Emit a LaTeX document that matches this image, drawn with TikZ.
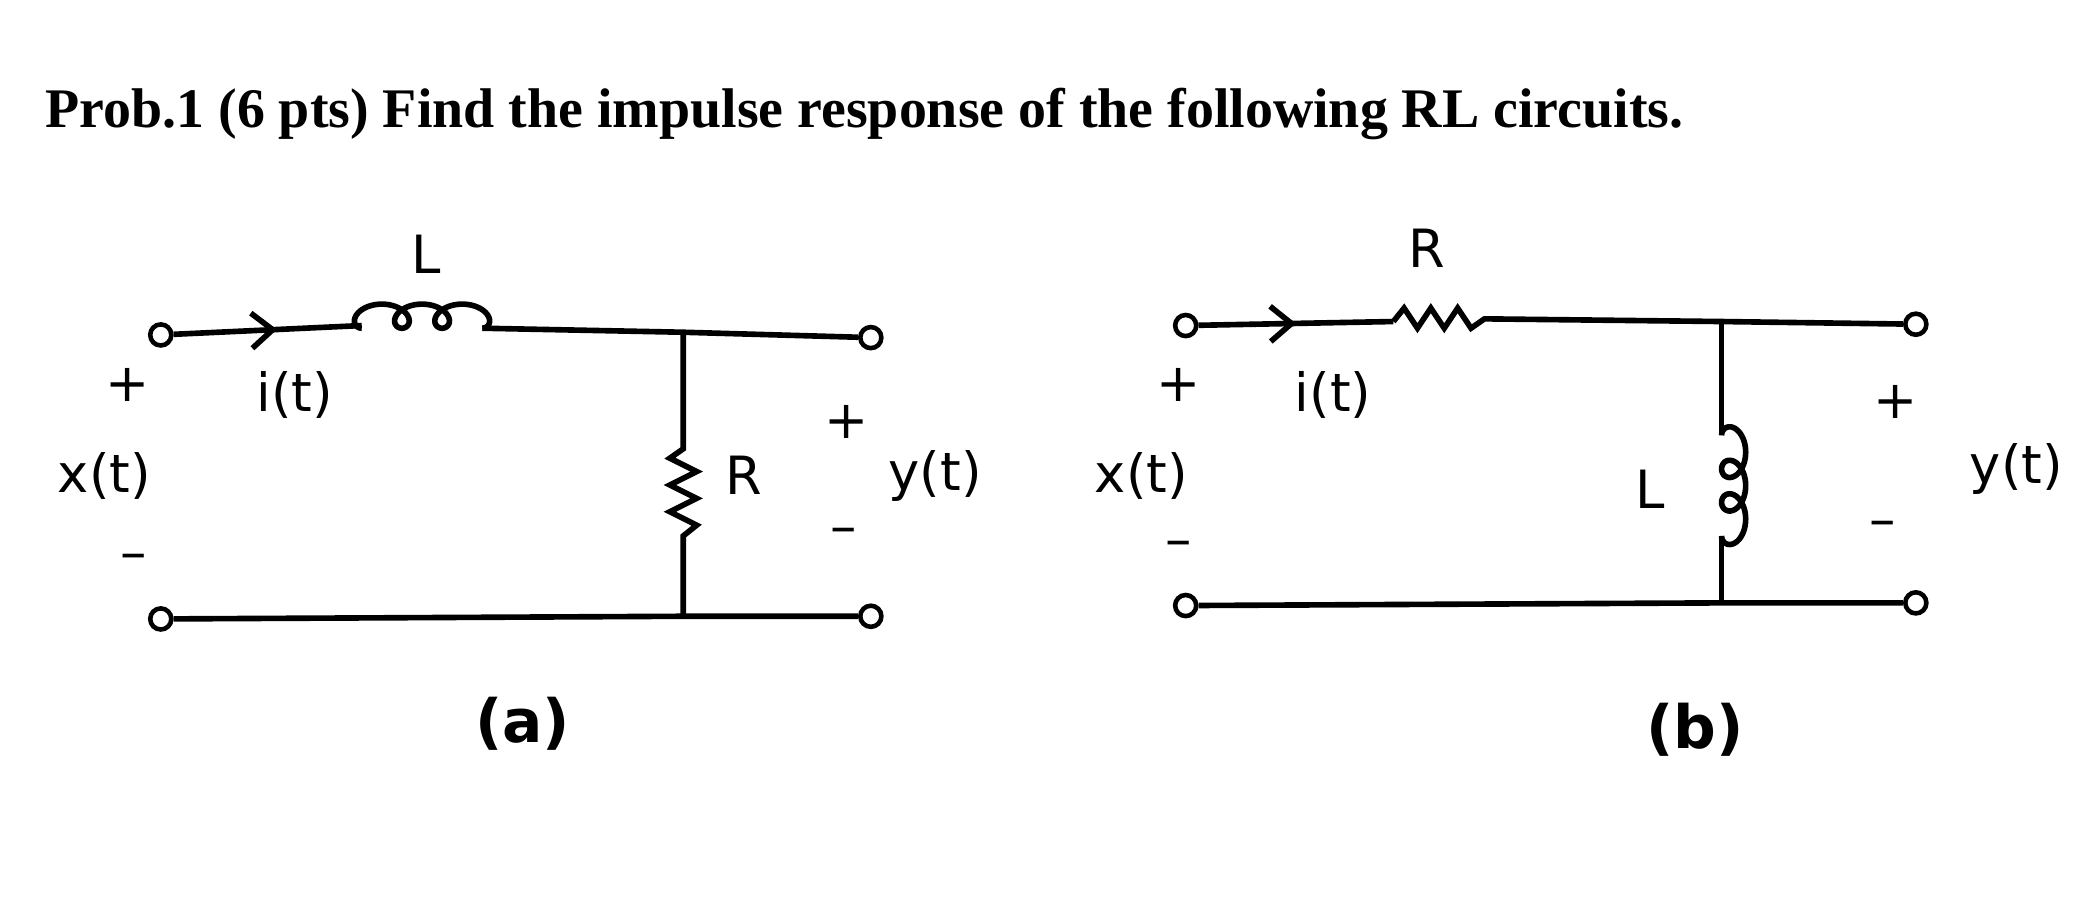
\documentclass[tikz,border=0pt]{standalone}
\usepackage{fontspec}
\setmainfont{Liberation Serif}
\newfontfamily\lab{DejaVu Sans}
\usetikzlibrary{arrows.meta,decorations.markings}
\begin{document}
\begin{tikzpicture}[x=0.0134cm,y=-0.0134cm,line width=1.6pt,
  term/.style={circle,draw,line width=1.3pt,inner sep=0pt,minimum size=6pt,fill=white},
  lbl/.style={font=\lab\fontsize{15}{17}\selectfont},
  captext/.style={font=\lab\bfseries\fontsize{17}{19}\selectfont},
  arr/.style={postaction={decorate},decoration={markings,mark=at position #1 with {\arrow{Straight Barb[length=6pt,width=10pt]}}}}]
\useasboundingbox (0,0) rectangle (1560,680);
\node[anchor=base west,inner sep=0pt,font=\bfseries\fontsize{15.9}{19}\selectfont] (title) at (32,95) {Prob.1 (6 pts) Find the impulse response of the following RL circuits.};
% ---- circuit (a)
\node[term] (a1) at (120,250) {};
\node[term] (a2) at (650,252) {};
\node[term] (a3) at (120,462) {};
\node[term] (a4) at (650,460) {};
\coordinate (at) at (510,248);
\coordinate (ab) at (510,460);
\draw[arr=0.55] (a1) -- (270,243);
\draw plot[domain=0:1080,samples=150,smooth] ({270+\x/1080*90-12*sin(\x)},{245-18*(1-cos(\x))/2});
\draw (360,245) -- (at) -- (a2);
\draw (at) -- (510,335) -- (500,342) -- (520,352) -- (500,362) -- (520,372) -- (500,382) -- (520,392) -- (510,400) -- (ab);
\draw (a3) -- (ab) -- (a4);
\node[lbl] (aL) at (318,190) {L};
\node[lbl] (ap1) at (95,287) {+};
\node[lbl] (ai) at (220,295) {i(t)};
\node[lbl] (ax) at (78,355) {x(t)};
\node[lbl] (am1) at (100,420) {–};
\node[lbl] (aR) at (555,355) {R};
\node[lbl] (ap2) at (632,315) {+};
\node[lbl] (ay) at (698,355) {y(t)};
\node[lbl] (am2) at (630,400) {–};
\node[captext] (ca) at (390,540) {(a)};
% ---- circuit (b)
\node[term] (b1) at (885,243) {};
\node[term] (b2) at (1430,242) {};
\node[term] (b3) at (885,452) {};
\node[term] (b4) at (1430,450) {};
\coordinate (bt) at (1285,240);
\coordinate (bb) at (1285,450);
\draw[arr=0.5] (b1) -- (1040,240);
\draw (1040,240) -- (1048,230) -- (1058,245) -- (1068,230) -- (1078,245) -- (1088,230) -- (1098,245) -- (1108,238) -- (bt) -- (b2);
\draw (bt) -- (1285,325);
\draw plot[domain=0:1080,samples=150,smooth] ({1285+18*(1-cos(\x))/2},{325+\x/1080*75-12*sin(\x)});
\draw (1285,400) -- (bb);
\draw (b3) -- (bb) -- (b4);
\node[lbl] (bR) at (1065,185) {R};
\node[lbl] (bp1) at (880,287) {+};
\node[lbl] (bi) at (995,295) {i(t)};
\node[lbl] (bx) at (852,355) {x(t)};
\node[lbl] (bm1) at (880,410) {–};
\node[lbl] (bL) at (1232,365) {L};
\node[lbl] (bp2) at (1415,300) {+};
\node[lbl] (by) at (1505,350) {y(t)};
\node[lbl] (bm2) at (1405,395) {–};
\node[captext] (cb) at (1265,545) {(b)};
\end{tikzpicture}
\end{document}
